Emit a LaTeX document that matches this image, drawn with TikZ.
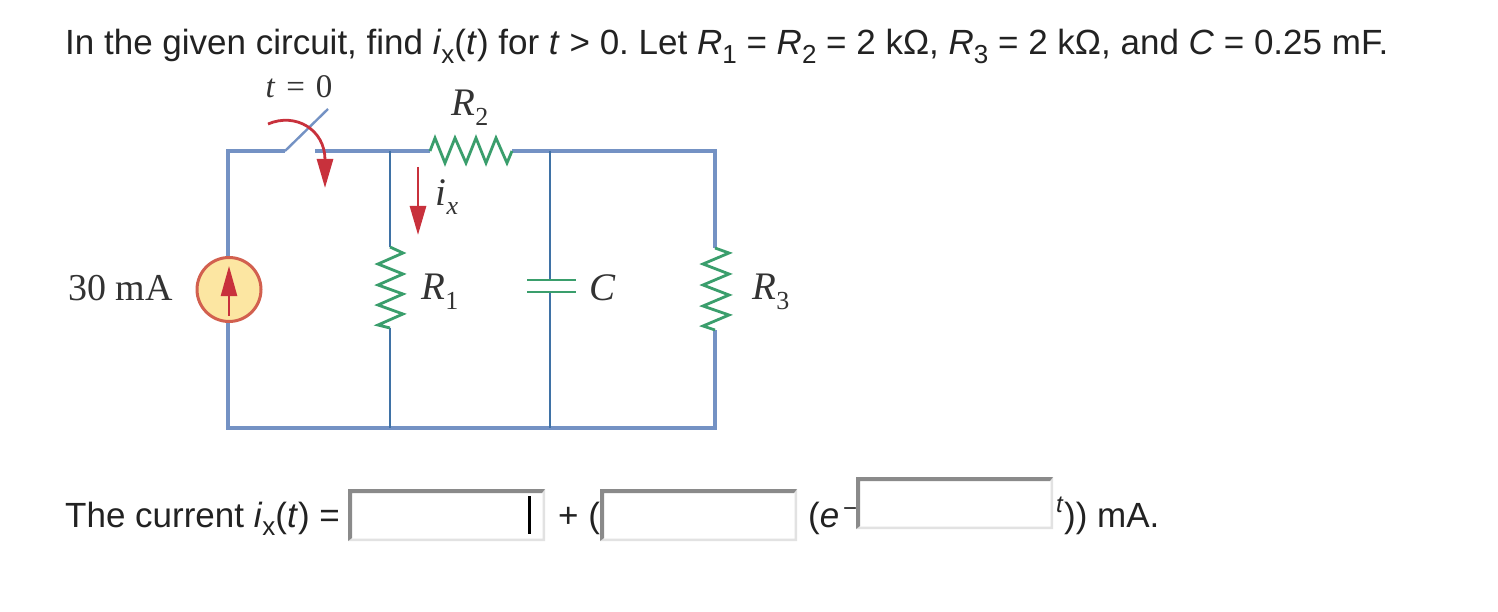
\documentclass[tikz,border=0pt]{standalone}
\usepackage{fontspec}
\setmainfont{Liberation Sans}
\newfontfamily\circfont{Liberation Serif}
\usetikzlibrary{arrows.meta}
\definecolor{txt}{HTML}{222222}
\definecolor{wirea}{HTML}{7492C4}
\definecolor{wireb}{HTML}{3F72A6}
\definecolor{rgreen}{HTML}{3A9E6C}
\definecolor{redc}{HTML}{C8313C}
\definecolor{srcfill}{HTML}{FCE6A2}
\definecolor{srcline}{HTML}{D2604F}
\definecolor{boxdark}{HTML}{8A8A8A}
\definecolor{boxlight}{HTML}{E2E2E2}
\newcommand{\subx}[1]{\raisebox{-0.24em}{\fontsize{26}{26}\selectfont #1}}
\newcommand{\subc}[1]{\raisebox{-0.25em}{\fontsize{26}{26}\selectfont #1}}
\tikzset{
  x=1pt,y=-1pt,
  qtext/.style={inner sep=0pt,anchor=base west,text=txt,font=\frenchspacing\fontsize{35}{38}\selectfont},
  suptext/.style={inner sep=0pt,anchor=base west,text=txt,font=\fontsize{24}{26}\selectfont},
  clabel/.style={inner sep=0pt,text=black!80,font=\circfont\fontsize{39}{42}\selectfont},
  wire/.style={draw=wirea,line width=3.6pt},
  thinwire/.style={draw=wireb,line width=2.4pt},
  res/.style={draw=rgreen,line width=2.8pt,line join=miter},
  plate/.style={draw=rgreen,line width=2.4pt},
  redarrow/.style={draw=redc,line width=2.8pt,-{Triangle[length=29pt,width=16pt,fill=redc]}},
}
\newcommand{\answerbox}[3]{%
  \fill[white] (#2,#3) rectangle ++(197,52);
  \fill[boxlight] (#2+197,#3) -- ++(0,52) -- ++(-197,0) -- ++(3,-2.5) -- ++(191.5,0) -- ++(0,-47) -- cycle;
  \fill[boxdark] (#2,#3) -- ++(197,0) -- ++(-3,4) -- ++(-190,0) -- ++(0,45) -- ++(-4,3) -- cycle;
  \coordinate (#1) at (#2,#3);
}
\begin{document}
\begin{tikzpicture}
\useasboundingbox (0,0) rectangle (1498,612);
\fill[white] (0,0) rectangle (1498,612);

\node[qtext] (title) at (65,55) {In the given circuit, find \textit{i}\subx{x}(\textit{t}) for \textit{t} > 0. Let \textit{R}\subx{1} = \textit{R}\subx{2} = 2 kΩ, \textit{R}\subx{3} = 2 kΩ, and \textit{C} = 0.25 mF.};

% junctions
\coordinate (tl) at (228,151);
\coordinate (bl) at (228,428);
\coordinate (swa) at (285,151);
\coordinate (swb) at (328,109);
\coordinate (swc) at (315,151);
\coordinate (ja) at (390,151);
\coordinate (jab) at (390,428);
\coordinate (r2a) at (430,151);
\coordinate (r2b) at (512,151);
\coordinate (jc) at (550,151);
\coordinate (jcb) at (550,428);
\coordinate (tr) at (715,151);
\coordinate (br) at (715,428);
\coordinate (r1a) at (390,247);
\coordinate (r1b) at (390,328);
\coordinate (r3a) at (715,248);
\coordinate (r3b) at (715,330);
\coordinate (capa) at (550,280);
\coordinate (capb) at (550,292);

% wires
\draw[wire,line join=miter] (swa) -- (tl) -- (bl) -- (br) -- (r3b);
\draw[wire] (r3a) -- (tr) -- (r2b);
\draw[wire] (swc) -- (r2a);
\draw[draw=wirea,line width=2.4pt] (swa) -- (swb);
\draw[thinwire] (ja) -- (r1a);
\draw[thinwire] (r1b) -- (jab);
\draw[thinwire] (jc) -- (capa);
\draw[thinwire] (capb) -- (jcb);

% resistors
\draw[res] (r2a) -- (435,138) -- (445,163) -- (455,138) -- (466,163) -- (476,138) -- (486,163) -- (496,138) -- (507,163) -- (r2b);
\draw[res] (r1a) -- (403,253) -- (378,264) -- (403,274) -- (378,285) -- (403,294) -- (378,305) -- (403,314) -- (378,325) -- (r1b);
\draw[res] (r3a) -- (729,253) -- (703,264) -- (729,274) -- (703,285) -- (729,295) -- (703,306) -- (729,315) -- (703,326) -- (r3b);

% capacitor
\draw[plate] (527,280) -- (capa) -- (576,280);
\draw[plate] (527,292) -- (capb) -- (576,292);

% source
\node[circle,draw=srcline,fill=srcfill,line width=3pt,minimum size=64pt,inner sep=0pt] (src) at (229,289.5) {};
\coordinate (srcin) at (229,316);
\coordinate (srctip) at (229,266);
\draw[draw=redc,line width=2.4pt,-{Triangle[length=30pt,width=16pt,fill=redc]}] (srcin) -- (srctip);

% arrows
\coordinate (swarca) at (268,124);
\coordinate (swarcb) at (325,188);
\draw[redarrow] (swarca) .. controls (296,112) and (325,130) .. (swarcb);
\coordinate (ixa) at (418,167);
\coordinate (ixb) at (418,235);
\draw[redarrow] (ixa) -- (ixb);

% labels
\node[clabel,font=\circfont\fontsize{33}{36}\selectfont] (lt) at (299,87) {\textit{t}\,\,=\,\,0};
\node[clabel] (lr2) at (470,108) {\textit{R}\subc{2}};
\node[clabel] (lix) at (447,197) {\textit{i}\subc{\textit{x}}};
\node[clabel,font=\circfont\fontsize{38}{40}\selectfont] (lsrc) at (120.5,288) {30 mA};
\node[clabel] (lr1) at (440,292) {\textit{R}\subc{1}};
\node[clabel] (lc) at (603,288) {\textit{C}};
\node[clabel] (lr3) at (771,292) {\textit{R}\subc{3}};

% answer line
\answerbox{boxa}{348}{489}
\answerbox{boxb}{600}{489}
\answerbox{boxc}{856}{477}
\fill[black] (528,496) rectangle (531,534);

\node[qtext] (ansa) at (65,527) {The current \textit{i}\subx{x}(\textit{t}) =};
\node[qtext] (ansb) at (558,527) {+ (};
\node[qtext] (ansc) at (808,527) {(\textit{e}};
\node[suptext] (ansd) at (843,516) {−};
\node[suptext] (anse) at (1056,512) {\textit{t}};
\node[qtext] (ansf) at (1064,527) {)) mA.};
\end{tikzpicture}
\end{document}
